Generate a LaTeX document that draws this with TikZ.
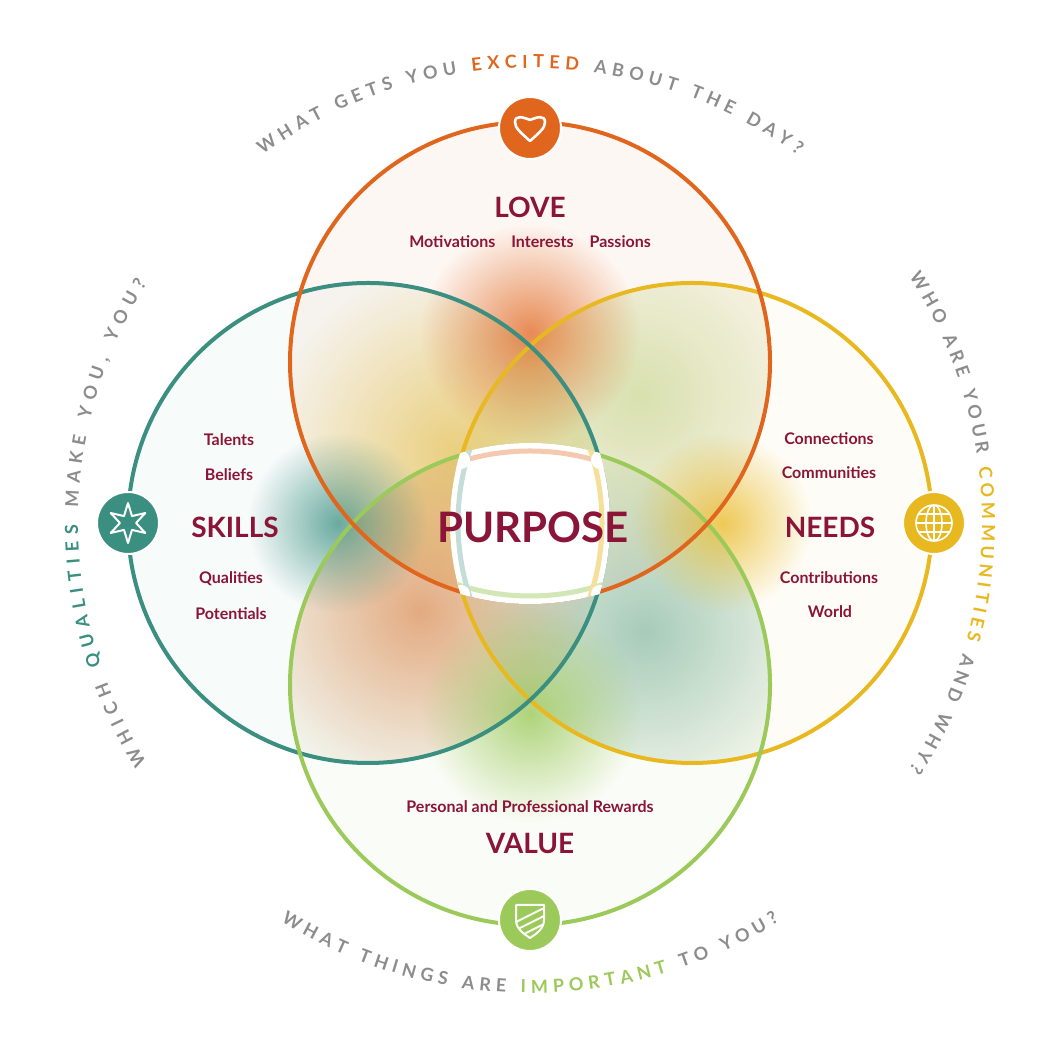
\documentclass[tikz,border=0pt]{standalone}
\usepackage{fontspec}
\setmainfont{Lato}
\usetikzlibrary{decorations.text,fadings}
\definecolor{orng}{HTML}{E0661E}
\definecolor{teal}{HTML}{3A8F80}
\definecolor{yel}{HTML}{E8B820}
\definecolor{grn}{HTML}{9BC95A}
\definecolor{dred}{HTML}{8A1538}
\definecolor{gy}{HTML}{8C8C8C}
\tikzfading[name=glow, inner color=transparent!0, outer color=transparent!100]
\begin{document}
\begin{tikzpicture}[x=1pt,y=1pt,
  ring/.style={line width=4pt},
  lbl/.style={text=dred,font=\fontsize{16}{18}\selectfont\bfseries},
  big/.style={text=dred,font=\fontsize{28}{30}\selectfont\bfseries},
  icon/.style={circle,minimum size=62pt,draw=white,line width=2pt},
  arctext/.style={decorate,decoration={text along path,text align={fit to path},
     text={#1}}}]
\useasboundingbox (0,0) rectangle (1059,1051);
\coordinate (C) at (530,528);
\coordinate (T) at (530,689);
\coordinate (L) at (368,528);
\coordinate (R) at (692,528);
\coordinate (B) at (530,366);
\def\r{240}
% lens shadings
\begin{scope}\clip (T) circle (\r); \clip (L) circle (\r);
 \fill[yel,opacity=0.55,path fading=glow] (455,600) circle (190);\end{scope}
\begin{scope}\clip (T) circle (\r); \clip (R) circle (\r);
 \fill[grn,opacity=0.4,path fading=glow] (640,655) circle (190);\end{scope}
\begin{scope}\clip (B) circle (\r); \clip (L) circle (\r);
 \fill[orng,opacity=0.55,path fading=glow] (420,440) circle (190);\end{scope}
\begin{scope}\clip (B) circle (\r); \clip (R) circle (\r);
 \fill[teal,opacity=0.45,path fading=glow] (645,420) circle (190);\end{scope}
\begin{scope}\clip (T) circle (\r);
 \fill[orng,opacity=0.75,path fading=glow] (530,718) circle (110);\end{scope}
\begin{scope}\clip (B) circle (\r);
 \fill[grn,opacity=0.8,path fading=glow] (530,338) circle (110);\end{scope}
\begin{scope}\clip (L) circle (\r);
 \fill[teal,opacity=0.75,path fading=glow] (338,528) circle (90);\end{scope}
\begin{scope}\clip (R) circle (\r);
 \fill[yel,opacity=0.75,path fading=glow] (722,528) circle (90);\end{scope}
% tints
\fill[orng,opacity=0.05] (T) circle (\r);
\fill[teal,opacity=0.04] (L) circle (\r);
\fill[yel,opacity=0.04] (R) circle (\r);
\fill[grn,opacity=0.05] (B) circle (\r);
% rings
\draw[ring,yel] (R) circle (\r);
\draw[ring,teal] (L) circle (\r);
\draw[ring,grn] (B) circle (\r);
\draw[ring,orng] (T) circle (\r);
% centre
\begin{scope}
 \clip (T) circle (242); \clip (B) circle (242); \clip (L) circle (242); \clip (R) circle (242);
 \fill[white] (C) circle (200);
 \draw[orng!35,line width=5pt] (B) circle (234);
 \draw[grn!45,line width=5pt] (T) circle (234);
 \draw[teal!30,line width=5pt] (R) circle (234);
 \draw[yel!45,line width=5pt] (L) circle (234);
 \foreach \p in {(461,591),(600,591),(461,457),(600,457)} \fill[white] \p circle (9);
\end{scope}
% icons
\node[icon,fill=orng] (ih) at (530,923) {};
\draw[white,line width=2.6pt,line join=round] ([yshift=-1]ih.center) ++(0,-12) .. controls +(-10,9) and +(0,-6) .. ++(-15,19) .. controls +(0,7) and +(-7,3) .. ++(15,2)
  .. controls +(7,3) and +(0,7) .. ++(15,-2) .. controls +(0,-6) and +(10,9) .. ++(-15,-19) -- cycle;
\node[icon,fill=teal] (is) at (128,528) {};
\draw[white,line width=2pt,line join=round,shift={(128,528)}] (90:20)--(120:8)--(150:20)--(180:8)--(210:20)--(240:8)--(270:20)--(300:8)--(330:20)--(0:8)--(30:20)--(60:8)--cycle;
\node[icon,fill=yel] (ig) at (934,528) {};
\begin{scope}[shift={(934,528)},white,line width=1.6pt]
 \draw (0,0) circle (18); \draw (0,0) ellipse (8 and 18); \draw (0,-18)--(0,18); \draw (-18,0)--(18,0);
 \draw (-15,9)--(15,9); \draw (-15,-9)--(15,-9);
\end{scope}
\node[icon,fill=grn] (id) at (530,131) {};
\begin{scope}[shift={(530,131)},white,line width=2pt,line join=round]
 \draw (-14,15)--(14,15)--(14,0) .. controls (14,-9) and (6,-14) .. (0,-18) .. controls (-6,-14) and (-14,-9) .. (-14,0) -- cycle;
 \clip (-14,15)--(14,15)--(14,0) .. controls (14,-9) and (6,-14) .. (0,-18) .. controls (-6,-14) and (-14,-9) .. (-14,0) -- cycle;
 \draw (-14,-2)--(14,12); \draw (-14,-10)--(14,4); \draw (-14,-18)--(14,-4);
\end{scope}
% texts
\node[big] (love) at (530,844) {LOVE};
\node[lbl] (lv) at (530,809) {Motivations\quad Interests\quad Passions};
\node[big] (skills) at (235,524) {SKILLS};
\node[lbl] at (229,611) {Talents};
\node[lbl] at (229,576) {Beliefs};
\node[lbl] at (231,472) {Qualities};
\node[lbl] at (231,437) {Potentials};
\node[big] (needs) at (830,524) {NEEDS};
\node[lbl] at (829,612) {Connections};
\node[lbl] at (829,578) {Communities};
\node[lbl] at (829,473) {Contributions};
\node[lbl] at (830,439) {World};
\node[text=dred,font=\fontsize{42}{44}\selectfont\bfseries] (pur) at (533,524) {PURPOSE};
\node[lbl] (rew) at (530,244) {Personal and Professional Rewards};
\node[big] (val) at (530,208) {VALUE};
% curved texts
\def\ct{\fontsize{18}{20}\selectfont\bfseries}
\path[arctext={|\ct\color{gy}|WHAT GETS YOU |\ct\bfseries\color{orng}|EXCITED|\ct\color{gy}| ABOUT THE DAY?}]
  (C) ++(126:455) arc[start angle=126,end angle=54,radius=455];
\path[arctext={|\ct\color{gy}|WHO ARE YOUR |\ct\bfseries\color{yel}|COMMUNITIES|\ct\color{gy}| AND WHY?}]
  (C) ++(33:452) arc[start angle=33,end angle=-33,radius=452];
\path[arctext={|\ct\color{gy}|WHAT THINGS ARE |\ct\bfseries\color{grn}|IMPORTANT|\ct\color{gy}| TO YOU?}]
  (C) ++(238:470) arc[start angle=238,end angle=302,radius=470];
\path[arctext={|\ct\color{gy}|WHICH |\ct\bfseries\color{teal}|QUALITIES|\ct\color{gy}| MAKE YOU, YOU?}]
  (C) ++(212:452) arc[start angle=212,end angle=148,radius=452];
\end{tikzpicture}
\end{document}
